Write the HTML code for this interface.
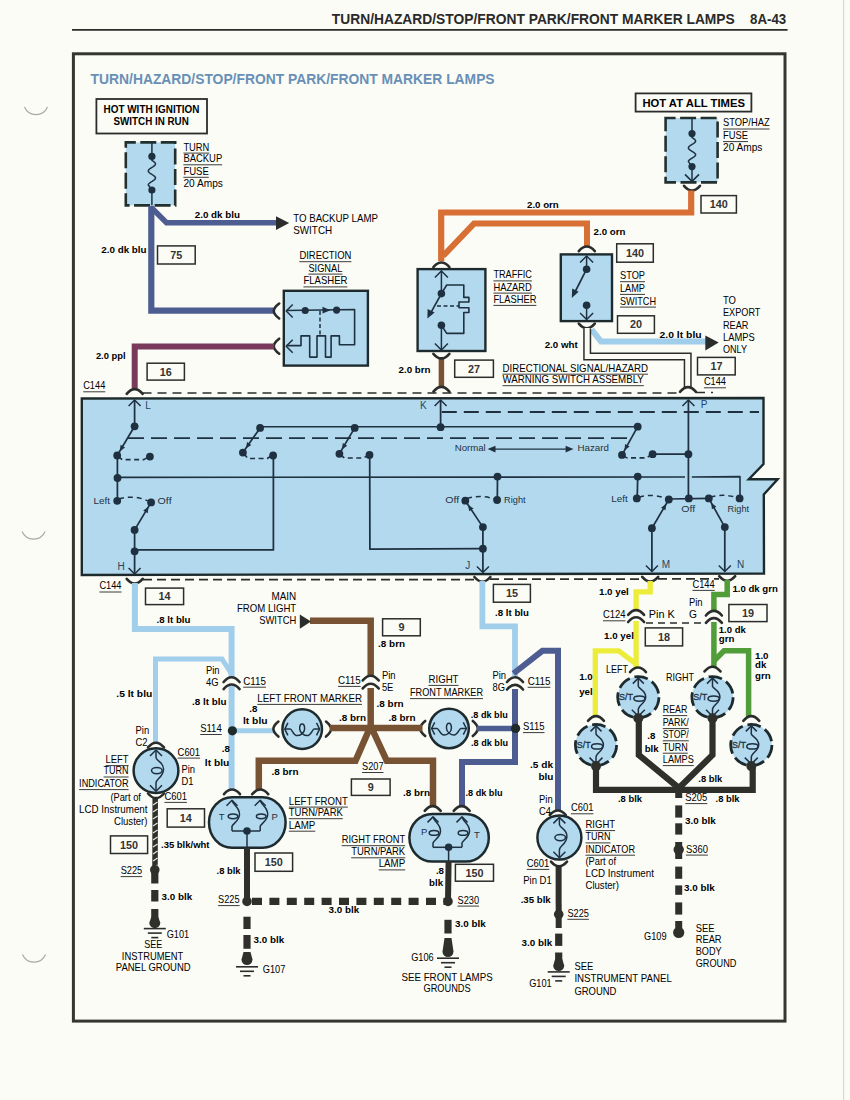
<!DOCTYPE html><html><head><meta charset="utf-8"><title>Turn/Hazard/Stop/Front Park/Front Marker Lamps 8A-43</title>
<style>html,body{margin:0;padding:0;background:#fcfcf7;}svg{display:block;font-family:"Liberation Sans",sans-serif;}</style></head><body>
<svg width="850" height="1100" viewBox="0 0 850 1100">
<rect x="0" y="0" width="850" height="1100" fill="#fcfcf7"/>
<line x1="843.6" y1="0" x2="843.6" y2="1100" stroke="#d6d6d2" stroke-width="1.1" />
<path d="M24.5,107 A12.5,12.5 0 0 0 47.5,107" fill="none" stroke="#a9a9a6" stroke-width="1.2"/>
<path d="M22.1,531.5 A12.5,12.5 0 0 0 45.1,531.5" fill="none" stroke="#a9a9a6" stroke-width="1.2"/>
<path d="M22.5,954.5 A12.5,12.5 0 0 0 45.5,954.5" fill="none" stroke="#a9a9a6" stroke-width="1.2"/>
<text x="331.8" y="23.5" font-size="15.2" font-weight="bold" fill="#2a2a2a" textLength="403" lengthAdjust="spacingAndGlyphs">TURN/HAZARD/STOP/FRONT PARK/FRONT MARKER LAMPS</text>
<text x="750" y="23.5" font-size="15.2" font-weight="bold" fill="#2a2a2a" textLength="36.2" lengthAdjust="spacingAndGlyphs">8A-43</text>
<line x1="72" y1="29.9" x2="787.6" y2="29.9" stroke="#2b2b2b" stroke-width="1.7" />
<rect x="73.4" y="53.8" width="711.6" height="967.3" fill="none" stroke="#34372f" stroke-width="3"/>
<text x="90.6" y="83.8" font-size="14.5" font-weight="bold" fill="#6890b6" textLength="404" lengthAdjust="spacingAndGlyphs">TURN/HAZARD/STOP/FRONT PARK/FRONT MARKER LAMPS</text>
<rect x="96.4" y="99" width="110.6" height="34.5" fill="none" stroke="#2a2d2b" stroke-width="1.8"/>
<text x="103.6" y="112.8" font-size="10.2" font-weight="bold" textLength="95.8" lengthAdjust="spacingAndGlyphs">HOT WITH IGNITION</text>
<text x="113.5" y="125.3" font-size="10.2" font-weight="bold" textLength="75.3" lengthAdjust="spacingAndGlyphs">SWITCH IN RUN</text>
<rect x="125.8" y="142.4" width="49.4" height="63" fill="#b3d9ef"/>
<rect x="125.8" y="142.4" width="49.4" height="63" fill="none" stroke="#22302f" stroke-width="2.6" stroke-dasharray="16,4.5" stroke-dashoffset="6"/>
<line x1="151.9" y1="142.4" x2="151.9" y2="156.4" stroke="#1f3140" stroke-width="1.5" />
<circle cx="151.9" cy="156.4" r="3.6" fill="#1f3140"/>
<polyline points="151.9,156.4 151.9,160.4 152.9,161 153.8,161.6 154.5,162.2 155.1,162.9 155.4,163.5 155.5,164.1 155.3,164.7 154.8,165.3 154.1,165.9 153.3,166.6 152.3,167.2 151.3,167.8 150.4,168.4 149.6,169 148.9,169.6 148.5,170.2 148.3,170.9 148.4,171.5 148.8,172.1 149.4,172.7 150.1,173.3 151.1,173.9 152,174.5 153,175.2 153.9,175.8 154.6,176.4 155.2,177 155.5,177.6 155.5,178.2 155.2,178.8 154.7,179.5 154,180.1 153.1,180.7 152.2,181.3 151.2,181.9 150.3,182.5 149.5,183.2 148.8,183.8 148.4,184.4 148.3,185 151.9,190" fill="none" stroke="#1f3140" stroke-width="1.5" stroke-linejoin="round"/>
<circle cx="151.9" cy="190" r="3.6" fill="#1f3140"/>
<line x1="151.9" y1="190" x2="151.9" y2="205.4" stroke="#1f3140" stroke-width="1.5" />
<text x="183.4" y="150.5" font-size="10.3" textLength="26" lengthAdjust="spacingAndGlyphs">TURN</text>
<line x1="183.4" y1="153.1" x2="209.4" y2="153.1" stroke="#3a3a3a" stroke-width="1.0" />
<text x="183.4" y="162.2" font-size="10.3" textLength="38.8" lengthAdjust="spacingAndGlyphs">BACKUP</text>
<line x1="183.4" y1="164.8" x2="222.2" y2="164.8" stroke="#3a3a3a" stroke-width="1.0" />
<text x="183.4" y="174.7" font-size="10.3" textLength="25.4" lengthAdjust="spacingAndGlyphs">FUSE</text>
<line x1="183.4" y1="177.3" x2="208.8" y2="177.3" stroke="#3a3a3a" stroke-width="1.0" />
<text x="183.4" y="187" font-size="10.3" textLength="39.5" lengthAdjust="spacingAndGlyphs">20  Amps</text>
<polyline points="151.3,206 151.3,310.7 274,310.7" fill="none" stroke="#4d5c91" stroke-width="6.2" stroke-linejoin="miter" stroke-linecap="butt" />
<polyline points="151.3,207.5 166.5,222.7 277,222.7" fill="none" stroke="#4d5c91" stroke-width="5.5" stroke-linejoin="miter" stroke-linecap="butt" />
<polygon points="276,216.2 289.2,223 276,230" fill="#2a2d2b"/>
<text x="194.7" y="217.6" font-size="9.7" font-weight="bold" textLength="45.3" lengthAdjust="spacingAndGlyphs">2.0 dk blu</text>
<text x="101.3" y="252.5" font-size="9.7" font-weight="bold" textLength="45.3" lengthAdjust="spacingAndGlyphs">2.0 dk blu</text>
<rect x="157.5" y="245.9" width="37.7" height="18.1" fill="none" stroke="#2a2d2b" stroke-width="1.5"/>
<text x="176.3" y="258.8" font-size="10.8" font-weight="bold" text-anchor="middle" fill="#333">75</text>
<text x="293.2" y="222" font-size="10.2" textLength="84.8" lengthAdjust="spacingAndGlyphs">TO BACKUP LAMP</text>
<text x="293.2" y="233.9" font-size="10.2" textLength="39" lengthAdjust="spacingAndGlyphs">SWITCH</text>
<text x="325.4" y="259.1" font-size="10.2" text-anchor="middle" textLength="52" lengthAdjust="spacingAndGlyphs">DIRECTION</text>
<line x1="299.4" y1="261.7" x2="351.4" y2="261.7" stroke="#3a3a3a" stroke-width="1.0" />
<text x="325.4" y="271.5" font-size="10.2" text-anchor="middle" textLength="34" lengthAdjust="spacingAndGlyphs">SIGNAL</text>
<line x1="308.4" y1="274.1" x2="342.4" y2="274.1" stroke="#3a3a3a" stroke-width="1.0" />
<text x="325.4" y="284.3" font-size="10.2" text-anchor="middle" textLength="44" lengthAdjust="spacingAndGlyphs">FLASHER</text>
<line x1="303.4" y1="286.9" x2="347.4" y2="286.9" stroke="#3a3a3a" stroke-width="1.0" />
<rect x="283.8" y="290.8" width="84.1" height="74.8" fill="#b3d9ef" stroke="#1e2b2e" stroke-width="2.4"/>
<path d="M279.2,303.5 Q273.8,307.6 273.8,311 Q273.8,314.4 279.2,318.5" fill="none" stroke="#2a2d2b" stroke-width="2.6" stroke-linecap="round" stroke-linejoin="round"/>
<path d="M279.2,338.7 Q273.8,342.8 273.8,346.2 Q273.8,349.6 279.2,353.7" fill="none" stroke="#2a2d2b" stroke-width="2.6" stroke-linecap="round" stroke-linejoin="round"/>
<polyline points="292.7,304.5 286.2,311 292.7,317.5" fill="none" stroke="#1f3140" stroke-width="1.5" stroke-linejoin="round" />
<polyline points="292.7,339.7 286.2,346.2 292.7,352.7" fill="none" stroke="#1f3140" stroke-width="1.5" stroke-linejoin="round" />
<polyline points="286.2,310.5 354.6,309.5 354.6,344.7 339.4,344.7 339.4,335.9 331.1,335.9 331.1,357.1 325.5,357.1 325.5,335.9 317,335.9 317,357.1 309.7,357.1 309.7,335.9 301,335.9 301,345.6 286.2,345.6" fill="none" stroke="#1f3140" stroke-width="1.6" stroke-linejoin="round" />
<circle cx="305.2" cy="310.5" r="3.6" fill="#1f3140"/>
<circle cx="336.6" cy="310.1" r="3.6" fill="#1f3140"/>
<polygon points="330.5,310.2 322.5,306.8 322.5,313.6" fill="#1f3140"/>
<line x1="320" y1="311" x2="320" y2="336" stroke="#1f3140" stroke-width="1.5" stroke-dasharray="4,2.5"/>
<polyline points="274,346.4 134.7,346.4 134.7,388" fill="none" stroke="#7a3a5c" stroke-width="6" stroke-linejoin="miter" stroke-linecap="butt" />
<text x="95.9" y="358.6" font-size="9.7" font-weight="bold" textLength="29.7" lengthAdjust="spacingAndGlyphs">2.0 ppl</text>
<rect x="147.1" y="363.2" width="37.3" height="16.9" fill="none" stroke="#2a2d2b" stroke-width="1.5"/>
<text x="165.8" y="375.5" font-size="10.8" font-weight="bold" text-anchor="middle" fill="#333">16</text>
<text x="83.2" y="389.2" font-size="10.2" textLength="22.1" lengthAdjust="spacingAndGlyphs">C144</text>
<line x1="83.2" y1="391.8" x2="105.3" y2="391.8" stroke="#3a3a3a" stroke-width="1.0" />
<rect x="635.6" y="93.4" width="115.8" height="18.2" fill="none" stroke="#2a2d2b" stroke-width="1.8"/>
<text x="642.4" y="106.6" font-size="10.4" font-weight="bold" textLength="102.6" lengthAdjust="spacingAndGlyphs">HOT AT ALL TIMES</text>
<rect x="665.6" y="118" width="52" height="64.4" fill="#b3d9ef"/>
<rect x="665.6" y="118" width="52" height="64.4" fill="none" stroke="#22302f" stroke-width="2.6" stroke-dasharray="16,4.5" stroke-dashoffset="6"/>
<line x1="692" y1="118" x2="692" y2="133.6" stroke="#1f3140" stroke-width="1.5" />
<circle cx="692" cy="133.6" r="3.6" fill="#1f3140"/>
<polyline points="692,133.6 692,137.6 693,138.2 693.9,138.8 694.6,139.4 695.2,140 695.5,140.6 695.6,141.2 695.4,141.8 694.9,142.4 694.2,143 693.4,143.6 692.4,144.2 691.4,144.8 690.5,145.4 689.7,146 689,146.6 688.6,147.2 688.4,147.8 688.5,148.4 688.9,149 689.5,149.6 690.2,150.2 691.2,150.8 692.1,151.4 693.1,152 694,152.6 694.7,153.2 695.3,153.8 695.6,154.4 695.6,155 695.3,155.6 694.8,156.2 694.1,156.8 693.2,157.4 692.3,158 691.3,158.6 690.4,159.2 689.6,159.8 688.9,160.4 688.5,161 688.4,161.6 692,166.6" fill="none" stroke="#1f3140" stroke-width="1.5" stroke-linejoin="round"/>
<circle cx="692" cy="166.6" r="3.6" fill="#1f3140"/>
<line x1="692" y1="166.6" x2="692" y2="182.4" stroke="#1f3140" stroke-width="1.5" />
<polyline points="685,174.4 692,181.4 699,174.4" fill="none" stroke="#1f3140" stroke-width="1.6" stroke-linejoin="round" />
<text x="723" y="126.4" font-size="10.3" textLength="46.6" lengthAdjust="spacingAndGlyphs">STOP/HAZ</text>
<line x1="723" y1="129" x2="769.6" y2="129" stroke="#3a3a3a" stroke-width="1.0" />
<text x="723" y="139" font-size="10.3" textLength="25" lengthAdjust="spacingAndGlyphs">FUSE</text>
<line x1="723" y1="141.6" x2="748" y2="141.6" stroke="#3a3a3a" stroke-width="1.0" />
<text x="723" y="151" font-size="10.3" textLength="39.4" lengthAdjust="spacingAndGlyphs">20  Amps</text>
<path d="M684,185.8 Q692,195.1 700,185.8" fill="none" stroke="#2a2d2b" stroke-width="2.6" stroke-linecap="round"/>
<rect x="701" y="195.6" width="35.4" height="17.4" fill="none" stroke="#2a2d2b" stroke-width="1.5"/>
<text x="718.7" y="208.2" font-size="10.8" font-weight="bold" text-anchor="middle" fill="#333">140</text>
<polyline points="691.2,190.5 691.2,212.5 441.2,212.5 441.2,261" fill="none" stroke="#d86f35" stroke-width="6.2" stroke-linejoin="miter" stroke-linecap="butt" />
<polyline points="443,256 474,223.6 587,223.6 587,246" fill="none" stroke="#d86f35" stroke-width="6" stroke-linejoin="miter" stroke-linecap="butt" />
<text x="527" y="207.6" font-size="9.7" font-weight="bold" textLength="31.8" lengthAdjust="spacingAndGlyphs">2.0 orn</text>
<text x="593.6" y="234.7" font-size="9.7" font-weight="bold" textLength="31.8" lengthAdjust="spacingAndGlyphs">2.0 orn</text>
<path d="M433.4,267.2 Q441.4,257.9 449.4,267.2" fill="none" stroke="#2a2d2b" stroke-width="2.6" stroke-linecap="round"/>
<rect x="417.6" y="269.1" width="67.8" height="81.9" fill="#b3d9ef" stroke="#1e2b2e" stroke-width="2.4"/>
<line x1="441.4" y1="270.5" x2="441.4" y2="293.6" stroke="#1f3140" stroke-width="1.5" />
<polyline points="434.9,277.5 441.4,271 447.9,277.5" fill="none" stroke="#1f3140" stroke-width="1.5" stroke-linejoin="round" />
<circle cx="441.4" cy="293.6" r="3.8" fill="#1f3140"/>
<line x1="441.4" y1="293.6" x2="429.5" y2="315.2" stroke="#1f3140" stroke-width="1.7" />
<polygon points="427.4,318.6 427.6,309 434.6,312.6" fill="#1f3140"/>
<line x1="437" y1="306" x2="459" y2="306" stroke="#1f3140" stroke-width="1.5" stroke-dasharray="4,2.5"/>
<polyline points="441.4,293.6 446.7,285 463.8,285 463.8,297.4 468.9,297.4 468.9,302 459,302 459,307.8 468.9,307.8 468.9,312.5 463.8,312.5 463.8,333.4 446.7,333.4 441.4,325.3" fill="none" stroke="#1f3140" stroke-width="1.6" stroke-linejoin="round" />
<circle cx="441.4" cy="325.3" r="3.8" fill="#1f3140"/>
<line x1="441.4" y1="325.3" x2="441.4" y2="350" stroke="#1f3140" stroke-width="1.5" />
<polyline points="434.9,343.5 441.4,350 447.9,343.5" fill="none" stroke="#1f3140" stroke-width="1.5" stroke-linejoin="round" />
<text x="493.4" y="278.3" font-size="10.2" textLength="38.5" lengthAdjust="spacingAndGlyphs">TRAFFIC</text>
<line x1="493.4" y1="280.9" x2="531.9" y2="280.9" stroke="#3a3a3a" stroke-width="1.0" />
<text x="493.4" y="290.5" font-size="10.2" textLength="38.5" lengthAdjust="spacingAndGlyphs">HAZARD</text>
<line x1="493.4" y1="293.1" x2="531.9" y2="293.1" stroke="#3a3a3a" stroke-width="1.0" />
<text x="493.4" y="302.8" font-size="10.2" textLength="43" lengthAdjust="spacingAndGlyphs">FLASHER</text>
<line x1="493.4" y1="305.4" x2="536.4" y2="305.4" stroke="#3a3a3a" stroke-width="1.0" />
<polyline points="441.4,357 441.4,387" fill="none" stroke="#775333" stroke-width="5.5" stroke-linejoin="miter" stroke-linecap="butt" />
<path d="M433.4,353.8 Q441.4,363.1 449.4,353.8" fill="none" stroke="#2a2d2b" stroke-width="2.6" stroke-linecap="round"/>
<path d="M433.4,391.6 Q441.4,382.2 449.4,391.6" fill="none" stroke="#2a2d2b" stroke-width="2.6" stroke-linecap="round"/>
<text x="398.5" y="373.1" font-size="9.7" font-weight="bold" textLength="32" lengthAdjust="spacingAndGlyphs">2.0 brn</text>
<rect x="454.7" y="360.1" width="38.7" height="17.2" fill="none" stroke="#2a2d2b" stroke-width="1.5"/>
<text x="474" y="372.6" font-size="10.8" font-weight="bold" text-anchor="middle" fill="#333">27</text>
<text x="502.5" y="371.6" font-size="10.2" textLength="145.5" lengthAdjust="spacingAndGlyphs">DIRECTIONAL SIGNAL/HAZARD</text>
<line x1="502.5" y1="374.2" x2="648" y2="374.2" stroke="#3a3a3a" stroke-width="1.0" />
<text x="502.5" y="383.1" font-size="10.2" textLength="141.3" lengthAdjust="spacingAndGlyphs">WARNING SWITCH ASSEMBLY</text>
<line x1="502.5" y1="385.7" x2="643.8" y2="385.7" stroke="#3a3a3a" stroke-width="1.0" />
<path d="M578.8,251.2 Q586.8,241.9 594.8,251.2" fill="none" stroke="#2a2d2b" stroke-width="2.6" stroke-linecap="round"/>
<rect x="560.8" y="254.4" width="51.2" height="66.7" fill="#b3d9ef" stroke="#1e2b2e" stroke-width="2.4"/>
<line x1="586.6" y1="256" x2="586.6" y2="269.2" stroke="#1f3140" stroke-width="1.5" />
<polyline points="580.1,262.5 586.6,256 593.1,262.5" fill="none" stroke="#1f3140" stroke-width="1.5" stroke-linejoin="round" />
<circle cx="586.6" cy="269.2" r="3.8" fill="#1f3140"/>
<line x1="586.6" y1="269.2" x2="574" y2="294" stroke="#1f3140" stroke-width="1.7" />
<polygon points="571.8,298 572.2,288.5 578.6,291.7" fill="#1f3140"/>
<circle cx="586.6" cy="305.2" r="3.8" fill="#1f3140"/>
<line x1="586.6" y1="305.2" x2="586.6" y2="319.5" stroke="#1f3140" stroke-width="1.5" />
<polyline points="580.1,313 586.6,319.5 593.1,313" fill="none" stroke="#1f3140" stroke-width="1.5" stroke-linejoin="round" />
<path d="M578.8,323.6 Q586.8,333 594.8,323.6" fill="none" stroke="#2a2d2b" stroke-width="2.6" stroke-linecap="round"/>
<rect x="616.7" y="243.8" width="36.6" height="18.4" fill="none" stroke="#2a2d2b" stroke-width="1.5"/>
<text x="635" y="256.9" font-size="10.8" font-weight="bold" text-anchor="middle" fill="#333">140</text>
<text x="620" y="279.1" font-size="10.2" textLength="25" lengthAdjust="spacingAndGlyphs">STOP</text>
<line x1="620" y1="281.7" x2="645" y2="281.7" stroke="#3a3a3a" stroke-width="1.0" />
<text x="620" y="291.8" font-size="10.2" textLength="25" lengthAdjust="spacingAndGlyphs">LAMP</text>
<line x1="620" y1="294.4" x2="645" y2="294.4" stroke="#3a3a3a" stroke-width="1.0" />
<text x="620" y="304.5" font-size="10.2" textLength="36" lengthAdjust="spacingAndGlyphs">SWITCH</text>
<line x1="620" y1="307.1" x2="656" y2="307.1" stroke="#3a3a3a" stroke-width="1.0" />
<rect x="617.5" y="315.8" width="36.9" height="17.5" fill="none" stroke="#2a2d2b" stroke-width="1.5"/>
<text x="636" y="328.4" font-size="10.8" font-weight="bold" text-anchor="middle" fill="#333">20</text>
<polyline points="591.5,329.5 601,341.4 707,341.4" fill="none" stroke="#a0ceeb" stroke-width="6" stroke-linejoin="miter" stroke-linecap="butt" />
<polygon points="705.3,335.4 718.7,342.6 705.3,350.4" fill="#2a2d2b"/>
<text x="659.6" y="337.6" font-size="9.7" font-weight="bold" textLength="42" lengthAdjust="spacingAndGlyphs">2.0 lt blu</text>
<text x="723" y="304" font-size="10.2" textLength="13" lengthAdjust="spacingAndGlyphs">TO</text>
<text x="723" y="316.4" font-size="10.2" textLength="37.4" lengthAdjust="spacingAndGlyphs">EXPORT</text>
<text x="723" y="328.7" font-size="10.2" textLength="25.4" lengthAdjust="spacingAndGlyphs">REAR</text>
<text x="723" y="341.4" font-size="10.2" textLength="31.7" lengthAdjust="spacingAndGlyphs">LAMPS</text>
<text x="723" y="353.4" font-size="10.2" textLength="24" lengthAdjust="spacingAndGlyphs">ONLY</text>
<polyline points="587.2,329 587.2,356.4 687.7,356.4 687.7,388" fill="none" stroke="#2b2d2b" stroke-width="8" stroke-linejoin="miter" stroke-linecap="butt" />
<polyline points="587.2,328 587.2,356.4 687.7,356.4 687.7,389" fill="none" stroke="#fbfaf4" stroke-width="5" stroke-linejoin="miter" stroke-linecap="butt" />
<text x="544.7" y="347.5" font-size="9.7" font-weight="bold" textLength="33" lengthAdjust="spacingAndGlyphs">2.0 wht</text>
<rect x="697.5" y="357.4" width="37.7" height="17.5" fill="none" stroke="#2a2d2b" stroke-width="1.5"/>
<text x="716.4" y="370" font-size="10.8" font-weight="bold" text-anchor="middle" fill="#333">17</text>
<text x="703.9" y="385.2" font-size="10.2" textLength="22.1" lengthAdjust="spacingAndGlyphs">C144</text>
<line x1="703.9" y1="387.8" x2="726" y2="387.8" stroke="#3a3a3a" stroke-width="1.0" />
<path d="M680,391.8 Q688,382.4 696,391.8" fill="none" stroke="#2a2d2b" stroke-width="2.6" stroke-linecap="round"/>
<line x1="142.5" y1="393" x2="682" y2="393" stroke="#2a2d2b" stroke-width="1.7" stroke-dasharray="9,6"/>
<line x1="696" y1="392.5" x2="713" y2="392.5" stroke="#2a2d2b" stroke-width="1.7" stroke-dasharray="9,6"/>
<path d="M126.7,393.8 Q134.7,384.4 142.7,393.8" fill="none" stroke="#2a2d2b" stroke-width="2.6" stroke-linecap="round"/>
<polygon points="81.8,398.5 763.5,398 763.5,464 748.8,479.2 777.7,479.2 763.8,494.5 764,573.5 81.8,575" fill="#b3d9ef" stroke="#1d2a2c" stroke-width="2.4" stroke-linejoin="miter"/>
<line x1="441.8" y1="412" x2="759" y2="412" stroke="#1f3140" stroke-width="1.8" stroke-dasharray="15,7"/>
<line x1="128" y1="438.2" x2="631" y2="438.2" stroke="#1f3140" stroke-width="1.8" stroke-dasharray="16,7"/>
<line x1="260.1" y1="426.8" x2="637.7" y2="426.8" stroke="#1f3140" stroke-width="1.6" />
<polyline points="117.6,477.4 685,477" fill="none" stroke="#1f3140" stroke-width="1.6" stroke-linejoin="round" />
<polyline points="691.8,477 740,476.6 740,498.4" fill="none" stroke="#1f3140" stroke-width="1.6" stroke-linejoin="round" />
<line x1="134.6" y1="400" x2="134.6" y2="426.3" stroke="#1f3140" stroke-width="1.75" />
<polyline points="128.6,406 134.6,400 140.6,406" fill="none" stroke="#1f3140" stroke-width="1.5" stroke-linejoin="round" />
<text x="145.3" y="409.4" font-size="10" fill="#24465e">L</text>
<circle cx="134.6" cy="426.3" r="3.9" fill="#1f3140"/>
<line x1="134.6" y1="426.3" x2="117.2" y2="455.5" stroke="#1f3140" stroke-width="1.7" />
<polygon points="119.8,451.2 120.6,444.7 125.1,447.4" fill="#1f3140"/>
<circle cx="117.2" cy="455.5" r="3.9" fill="#1f3140"/>
<polyline points="118.2,456.5 122.2,459.6 143.9,459.6 148.9,456.6" fill="none" stroke="#1f3140" stroke-width="1.6" stroke-linejoin="round" stroke-dasharray="5,3.5"/>
<circle cx="149.9" cy="456.6" r="3.9" fill="#1f3140"/>
<line x1="117.4" y1="455.5" x2="117.4" y2="500.8" stroke="#1f3140" stroke-width="1.75" />
<circle cx="117.5" cy="478" r="3.9" fill="#1f3140"/>
<circle cx="117.2" cy="500.8" r="3.9" fill="#1f3140"/>
<text x="93.6" y="503.5" font-size="9.5" fill="#1f3140" textLength="16.5" lengthAdjust="spacingAndGlyphs">Left</text>
<path d="M119,499 Q135,494 151,502.4" fill="none" stroke="#1f3140" stroke-width="1.5" stroke-dasharray="5,4"/>
<circle cx="151.1" cy="502.4" r="3.9" fill="#1f3140"/>
<text x="157.6" y="503.5" font-size="9.5" fill="#1f3140" textLength="14" lengthAdjust="spacingAndGlyphs">Off</text>
<line x1="151.1" y1="502.4" x2="134.6" y2="529.9" stroke="#1f3140" stroke-width="1.7" />
<polygon points="148.5,506.7 143.2,510.5 147.7,513.2" fill="#1f3140"/>
<circle cx="134.6" cy="529.9" r="3.9" fill="#1f3140"/>
<line x1="134.6" y1="529.9" x2="134.6" y2="574" stroke="#1f3140" stroke-width="1.75" />
<circle cx="134.6" cy="551.3" r="3.9" fill="#1f3140"/>
<polyline points="128.6,568 134.6,574 140.6,568" fill="none" stroke="#1f3140" stroke-width="1.5" stroke-linejoin="round" />
<text x="117.6" y="569.9" font-size="10" fill="#24465e">H</text>
<polyline points="134.6,549.9 273.4,549.9 273.4,455.5" fill="none" stroke="#1f3140" stroke-width="1.75" stroke-linejoin="round" />
<circle cx="260.1" cy="427.9" r="3.9" fill="#1f3140"/>
<line x1="260.1" y1="427.9" x2="242.9" y2="452.6" stroke="#1f3140" stroke-width="1.7" />
<polygon points="245.8,448.5 247.1,442.1 251.3,445.1" fill="#1f3140"/>
<circle cx="242.9" cy="452.6" r="3.9" fill="#1f3140"/>
<polyline points="243.9,453.6 247.9,458.5 267.1,458.5 272.1,455.5" fill="none" stroke="#1f3140" stroke-width="1.6" stroke-linejoin="round" stroke-dasharray="5,3.5"/>
<circle cx="273.1" cy="455.5" r="3.9" fill="#1f3140"/>
<circle cx="354.7" cy="427.9" r="3.9" fill="#1f3140"/>
<line x1="354.7" y1="427.9" x2="339.4" y2="453.8" stroke="#1f3140" stroke-width="1.7" />
<polygon points="341.9,449.5 342.8,443 347.2,445.7" fill="#1f3140"/>
<circle cx="339.4" cy="453.8" r="3.9" fill="#1f3140"/>
<polyline points="340.4,454.8 344.4,458 363.5,458 368.5,455" fill="none" stroke="#1f3140" stroke-width="1.6" stroke-linejoin="round" stroke-dasharray="5,3.5"/>
<circle cx="369.5" cy="455" r="3.9" fill="#1f3140"/>
<polyline points="369.7,455 369.9,549.2 482.9,548.7" fill="none" stroke="#1f3140" stroke-width="1.75" stroke-linejoin="round" />
<line x1="440.6" y1="400" x2="440.6" y2="427.2" stroke="#1f3140" stroke-width="1.75" />
<polyline points="434.6,406 440.6,400 446.6,406" fill="none" stroke="#1f3140" stroke-width="1.5" stroke-linejoin="round" />
<text x="420" y="409" font-size="10" fill="#24465e">K</text>
<circle cx="440.6" cy="427.2" r="3.9" fill="#1f3140"/>
<text x="454.7" y="451" font-size="9.5" fill="#1f3140" textLength="31" lengthAdjust="spacingAndGlyphs">Normal</text>
<text x="577.5" y="451" font-size="9.5" fill="#1f3140" textLength="31.3" lengthAdjust="spacingAndGlyphs">Hazard</text>
<line x1="492" y1="449.1" x2="569" y2="449.1" stroke="#1f3140" stroke-width="1.4" />
<polygon points="487.6,449.1 495.5,445.8 495.5,452.4" fill="#1f3140"/>
<polygon points="573.5,449.1 565.6,445.8 565.6,452.4" fill="#1f3140"/>
<circle cx="497.5" cy="476.6" r="3.9" fill="#1f3140"/>
<line x1="497.5" y1="476.6" x2="497.3" y2="500" stroke="#1f3140" stroke-width="1.75" />
<circle cx="497.1" cy="500" r="3.9" fill="#1f3140"/>
<path d="M467,498.5 Q482,494 497,500" fill="none" stroke="#1f3140" stroke-width="1.5" stroke-dasharray="5,4"/>
<circle cx="465.3" cy="500.7" r="3.9" fill="#1f3140"/>
<text x="445.3" y="503" font-size="9.5" fill="#1f3140" textLength="14" lengthAdjust="spacingAndGlyphs">Off</text>
<text x="504.1" y="503.2" font-size="9.5" fill="#1f3140" textLength="21.5" lengthAdjust="spacingAndGlyphs">Right</text>
<line x1="465.3" y1="500.7" x2="482.9" y2="527.1" stroke="#1f3140" stroke-width="1.7" />
<polygon points="468.1,504.9 469.2,511.3 473.6,508.4" fill="#1f3140"/>
<circle cx="482.9" cy="527.1" r="3.9" fill="#1f3140"/>
<line x1="482.9" y1="527.1" x2="482.9" y2="572.5" stroke="#1f3140" stroke-width="1.75" />
<circle cx="482.9" cy="548.7" r="3.9" fill="#1f3140"/>
<polyline points="476.9,566.5 482.9,572.5 488.9,566.5" fill="none" stroke="#1f3140" stroke-width="1.5" stroke-linejoin="round" />
<text x="465.3" y="569" font-size="10" fill="#24465e">J</text>
<circle cx="637.7" cy="426.7" r="3.9" fill="#1f3140"/>
<line x1="637.7" y1="426.7" x2="622" y2="454.9" stroke="#1f3140" stroke-width="1.7" />
<polygon points="624.4,450.5 625.1,444 629.6,446.6" fill="#1f3140"/>
<circle cx="622" cy="454.9" r="3.9" fill="#1f3140"/>
<polyline points="623,455.9 627,457.9 646.6,457.9 651.6,454.2" fill="none" stroke="#1f3140" stroke-width="1.6" stroke-linejoin="round" stroke-dasharray="5,3.5"/>
<circle cx="652.6" cy="454.2" r="3.9" fill="#1f3140"/>
<line x1="652.6" y1="454.2" x2="688.4" y2="454.2" stroke="#1f3140" stroke-width="1.75" />
<line x1="688.4" y1="400" x2="688.4" y2="498.5" stroke="#1f3140" stroke-width="1.75" />
<polyline points="682.4,406 688.4,400 694.4,406" fill="none" stroke="#1f3140" stroke-width="1.5" stroke-linejoin="round" />
<text x="700.7" y="408.4" font-size="10" fill="#24465e">P</text>
<circle cx="688.4" cy="454.2" r="3.9" fill="#1f3140"/>
<circle cx="637.7" cy="476.6" r="3.9" fill="#1f3140"/>
<line x1="637.7" y1="476.6" x2="637.2" y2="498.4" stroke="#1f3140" stroke-width="1.75" />
<circle cx="636.8" cy="498.4" r="3.9" fill="#1f3140"/>
<text x="611.3" y="501.8" font-size="9.5" fill="#1f3140" textLength="16.5" lengthAdjust="spacingAndGlyphs">Left</text>
<path d="M639,497 Q654,493 668.8,499.5" fill="none" stroke="#1f3140" stroke-width="1.5" stroke-dasharray="5,4"/>
<circle cx="668.8" cy="499.5" r="3.9" fill="#1f3140"/>
<line x1="668.8" y1="499" x2="708.8" y2="498.4" stroke="#1f3140" stroke-width="1.75" />
<circle cx="688.8" cy="498.4" r="3.9" fill="#1f3140"/>
<circle cx="708.8" cy="498.4" r="3.9" fill="#1f3140"/>
<path d="M710.5,497 Q725,493 739.5,498.4" fill="none" stroke="#1f3140" stroke-width="1.5" stroke-dasharray="5,4"/>
<circle cx="739.6" cy="498.4" r="3.9" fill="#1f3140"/>
<text x="681.3" y="512.2" font-size="9.5" fill="#1f3140" textLength="14" lengthAdjust="spacingAndGlyphs">Off</text>
<text x="727.6" y="511.8" font-size="9.5" fill="#1f3140" textLength="21.5" lengthAdjust="spacingAndGlyphs">Right</text>
<line x1="668.8" y1="499.5" x2="651.9" y2="528.2" stroke="#1f3140" stroke-width="1.7" />
<polygon points="666.3,503.8 661,507.7 665.5,510.3" fill="#1f3140"/>
<circle cx="651.9" cy="528.2" r="3.9" fill="#1f3140"/>
<line x1="651.9" y1="528.2" x2="651.9" y2="571.5" stroke="#1f3140" stroke-width="1.75" />
<polyline points="645.9,565.5 651.9,571.5 657.9,565.5" fill="none" stroke="#1f3140" stroke-width="1.5" stroke-linejoin="round" />
<text x="661.8" y="567.5" font-size="10" fill="#24465e">M</text>
<line x1="708.8" y1="498.4" x2="724.8" y2="527.1" stroke="#1f3140" stroke-width="1.7" />
<polygon points="711.2,502.8 711.9,509.3 716.4,506.7" fill="#1f3140"/>
<circle cx="724.8" cy="527.1" r="3.9" fill="#1f3140"/>
<line x1="724.8" y1="527.1" x2="724.8" y2="571.5" stroke="#1f3140" stroke-width="1.75" />
<polyline points="718.8,565.5 724.8,571.5 730.8,565.5" fill="none" stroke="#1f3140" stroke-width="1.5" stroke-linejoin="round" />
<text x="737" y="567.5" font-size="10" fill="#24465e">N</text>
<line x1="143" y1="579.6" x2="474" y2="579.6" stroke="#2a2d2b" stroke-width="1.7" stroke-dasharray="9,5"/>
<line x1="490" y1="579.2" x2="642" y2="579.2" stroke="#2a2d2b" stroke-width="1.7" stroke-dasharray="9,5"/>
<line x1="658" y1="578.9" x2="719" y2="578.9" stroke="#2a2d2b" stroke-width="1.7" stroke-dasharray="9,5"/>
<path d="M126.7,578.8 Q134.7,588.1 142.7,578.8" fill="none" stroke="#2a2d2b" stroke-width="2.6" stroke-linecap="round"/>
<path d="M474.4,577 Q482.4,586.4 490.4,577" fill="none" stroke="#2a2d2b" stroke-width="2.6" stroke-linecap="round"/>
<path d="M642.2,576.8 Q650.2,586.1 658.2,576.8" fill="none" stroke="#2a2d2b" stroke-width="2.6" stroke-linecap="round"/>
<path d="M719.2,576.2 Q727.2,585.6 735.2,576.2" fill="none" stroke="#2a2d2b" stroke-width="2.6" stroke-linecap="round"/>
<text x="99.4" y="589.4" font-size="10.2" textLength="22.1" lengthAdjust="spacingAndGlyphs">C144</text>
<line x1="99.4" y1="592" x2="121.5" y2="592" stroke="#3a3a3a" stroke-width="1.0" />
<text x="692.4" y="587.8" font-size="10.2" textLength="22.3" lengthAdjust="spacingAndGlyphs">C144</text>
<line x1="692.4" y1="590.4" x2="714.7" y2="590.4" stroke="#3a3a3a" stroke-width="1.0" />
<polyline points="134.9,583 134.9,629 231.6,629 231.6,677" fill="none" stroke="#a0ceeb" stroke-width="6" stroke-linejoin="miter" stroke-linecap="butt" />
<polyline points="231.6,674 222,659 155.5,659 155.5,742" fill="none" stroke="#a0ceeb" stroke-width="5" stroke-linejoin="miter" stroke-linecap="butt" />
<polyline points="231.6,686 231.6,789" fill="none" stroke="#a0ceeb" stroke-width="6" stroke-linejoin="miter" stroke-linecap="butt" />
<polyline points="232,730.8 274,730.8" fill="none" stroke="#a0ceeb" stroke-width="5" stroke-linejoin="miter" stroke-linecap="butt" />
<rect x="145.5" y="588.1" width="38.1" height="16.5" fill="none" stroke="#2a2d2b" stroke-width="1.5"/>
<text x="164.6" y="600.2" font-size="10.8" font-weight="bold" text-anchor="middle" fill="#333">14</text>
<text x="156.5" y="622.6" font-size="9.7" font-weight="bold" textLength="33.9" lengthAdjust="spacingAndGlyphs">.8 lt blu</text>
<text x="206" y="674" font-size="10.2" textLength="13.6" lengthAdjust="spacingAndGlyphs">Pin</text>
<text x="206" y="686.2" font-size="10.2" textLength="12.5" lengthAdjust="spacingAndGlyphs">4G</text>
<path d="M223.6,682 Q231.6,672.6 239.6,682" fill="none" stroke="#2a2d2b" stroke-width="2.6" stroke-linecap="round"/>
<path d="M223.6,689.1 Q231.6,679.8 239.6,689.1" fill="none" stroke="#2a2d2b" stroke-width="2.6" stroke-linecap="round"/>
<text x="243.2" y="684.6" font-size="10.2" textLength="22.7" lengthAdjust="spacingAndGlyphs">C115</text>
<line x1="243.2" y1="687.2" x2="265.9" y2="687.2" stroke="#3a3a3a" stroke-width="1.0" />
<text x="116.3" y="697.4" font-size="9.7" font-weight="bold" textLength="36" lengthAdjust="spacingAndGlyphs">.5 lt blu</text>
<text x="192" y="705" font-size="9.7" font-weight="bold" textLength="34.4" lengthAdjust="spacingAndGlyphs">.8 lt blu</text>
<text x="257.3" y="701.8" font-size="10.2" textLength="104.7" lengthAdjust="spacingAndGlyphs">LEFT FRONT MARKER</text>
<line x1="257.3" y1="704.4" x2="362" y2="704.4" stroke="#3a3a3a" stroke-width="1.0" />
<text x="249.3" y="711.8" font-size="9.7" font-weight="bold">.8</text>
<text x="243" y="724" font-size="9.7" font-weight="bold" textLength="24.5" lengthAdjust="spacingAndGlyphs">lt blu</text>
<text x="200.2" y="731.9" font-size="10.2" textLength="21.5" lengthAdjust="spacingAndGlyphs">S114</text>
<line x1="200.2" y1="734.5" x2="221.7" y2="734.5" stroke="#3a3a3a" stroke-width="1.0" />
<circle cx="232.4" cy="730.8" r="4.6" fill="#1f2a2a"/>
<text x="221.8" y="752" font-size="9.7" font-weight="bold">.8</text>
<text x="204.8" y="765.8" font-size="9.7" font-weight="bold" textLength="24.5" lengthAdjust="spacingAndGlyphs">lt blu</text>
<circle cx="302.2" cy="729.1" r="19.8" fill="#b3d9ef" stroke="#1e2b2e" stroke-width="2.5"/>
<path d="M278.4,721.6 Q273.4,725.7 273.4,729.1 Q273.4,732.5 278.4,736.6" fill="none" stroke="#2a2d2b" stroke-width="2.6" stroke-linecap="round" stroke-linejoin="round"/>
<path d="M326,721.6 Q331,725.7 331,729.1 Q331,732.5 326,736.6" fill="none" stroke="#2a2d2b" stroke-width="2.6" stroke-linecap="round" stroke-linejoin="round"/>
<path d="M287.9,722.9 L284.8,729.1 287.9,735.3" fill="none" stroke="#1f3140" stroke-width="1.5" stroke-linejoin="round" />
<path d="M316.5,722.9 L319.6,729.1 316.5,735.3" fill="none" stroke="#1f3140" stroke-width="1.5" stroke-linejoin="round" />
<path d="M284.8,729.1 L290.2,729.1 C292.2,729.1 293.2,735.6 297.2,735.6 C300.2,735.6 304.4,733.1 304.6,729.1 C304.8,725.1 303.4,723.9 302.2,723.9 C300.8,723.9 299.4,725.1 299.7,729.1 C300,733.1 304.2,735.6 307.2,735.6 C311.2,735.6 312.2,729.1 314.2,729.1 L319.6,729.1" fill="none" stroke="#1f3140" stroke-width="1.5" stroke-linejoin="round" />
<circle cx="449" cy="728.5" r="19.8" fill="#b3d9ef" stroke="#1e2b2e" stroke-width="2.5"/>
<path d="M425.2,721 Q420.2,725.1 420.2,728.5 Q420.2,731.9 425.2,736" fill="none" stroke="#2a2d2b" stroke-width="2.6" stroke-linecap="round" stroke-linejoin="round"/>
<path d="M472.8,721 Q477.8,725.1 477.8,728.5 Q477.8,731.9 472.8,736" fill="none" stroke="#2a2d2b" stroke-width="2.6" stroke-linecap="round" stroke-linejoin="round"/>
<path d="M434.7,722.3 L431.6,728.5 434.7,734.7" fill="none" stroke="#1f3140" stroke-width="1.5" stroke-linejoin="round" />
<path d="M463.3,722.3 L466.4,728.5 463.3,734.7" fill="none" stroke="#1f3140" stroke-width="1.5" stroke-linejoin="round" />
<path d="M431.6,728.5 L437,728.5 C439,728.5 440,735 444,735 C447,735 451.2,732.5 451.4,728.5 C451.6,724.5 450.2,723.3 449,723.3 C447.6,723.3 446.2,724.5 446.5,728.5 C446.8,732.5 451,735 454,735 C458,735 459,728.5 461,728.5 L466.4,728.5" fill="none" stroke="#1f3140" stroke-width="1.5" stroke-linejoin="round" />
<polyline points="310,620.7 370.7,620.7 370.7,676" fill="none" stroke="#775333" stroke-width="6.5" stroke-linejoin="miter" stroke-linecap="butt" />
<polygon points="299.8,614.4 311,621.6 299.8,628.8" fill="#2a2d2b"/>
<polyline points="370.7,688 370.7,728" fill="none" stroke="#775333" stroke-width="6.5" stroke-linejoin="miter" stroke-linecap="butt" />
<polyline points="330,727.9 422.5,727.9" fill="none" stroke="#775333" stroke-width="6.5" stroke-linejoin="miter" stroke-linecap="butt" />
<polyline points="370.7,726 355.5,760.8 258.8,760.8 258.8,790" fill="none" stroke="#775333" stroke-width="6.5" stroke-linejoin="miter" stroke-linecap="butt" />
<polyline points="370.7,726 386.8,760.8 433,760.8 433,806" fill="none" stroke="#775333" stroke-width="6.5" stroke-linejoin="miter" stroke-linecap="butt" />
<path d="M362.7,680.4 Q370.7,671 378.7,680.4" fill="none" stroke="#2a2d2b" stroke-width="2.6" stroke-linecap="round"/>
<path d="M362.7,688.4 Q370.7,679 378.7,688.4" fill="none" stroke="#2a2d2b" stroke-width="2.6" stroke-linecap="round"/>
<text x="296.2" y="599.8" font-size="10.2" text-anchor="end" textLength="24.7" lengthAdjust="spacingAndGlyphs">MAIN</text>
<text x="296.2" y="612.2" font-size="10.2" text-anchor="end" textLength="59.2" lengthAdjust="spacingAndGlyphs">FROM LIGHT</text>
<text x="296.2" y="624" font-size="10.2" text-anchor="end" textLength="37" lengthAdjust="spacingAndGlyphs">SWITCH</text>
<rect x="382.6" y="618.8" width="37.7" height="17" fill="none" stroke="#2a2d2b" stroke-width="1.5"/>
<text x="401.5" y="631.2" font-size="10.8" font-weight="bold" text-anchor="middle" fill="#333">9</text>
<text x="378.1" y="647.1" font-size="9.7" font-weight="bold" textLength="27" lengthAdjust="spacingAndGlyphs">.8 brn</text>
<text x="338" y="683.8" font-size="10.2" textLength="22.7" lengthAdjust="spacingAndGlyphs">C115</text>
<line x1="338" y1="686.4" x2="360.7" y2="686.4" stroke="#3a3a3a" stroke-width="1.0" />
<text x="381.9" y="678.7" font-size="10.2" textLength="13.6" lengthAdjust="spacingAndGlyphs">Pin</text>
<text x="381.9" y="691.3" font-size="10.2" textLength="11.5" lengthAdjust="spacingAndGlyphs">5E</text>
<text x="376.6" y="707.3" font-size="9.7" font-weight="bold" textLength="27" lengthAdjust="spacingAndGlyphs">.8 brn</text>
<text x="339" y="720.5" font-size="9.7" font-weight="bold" textLength="27" lengthAdjust="spacingAndGlyphs">.8 brn</text>
<text x="388.5" y="720.5" font-size="9.7" font-weight="bold" textLength="27" lengthAdjust="spacingAndGlyphs">.8 brn</text>
<text x="362.1" y="769.9" font-size="10.2" textLength="21.4" lengthAdjust="spacingAndGlyphs">S207</text>
<line x1="362.1" y1="772.5" x2="383.5" y2="772.5" stroke="#3a3a3a" stroke-width="1.0" />
<rect x="351.4" y="779" width="38.7" height="16.4" fill="none" stroke="#2a2d2b" stroke-width="1.5"/>
<text x="370.8" y="791.1" font-size="10.8" font-weight="bold" text-anchor="middle" fill="#333">9</text>
<text x="271.5" y="774.9" font-size="9.7" font-weight="bold" textLength="27" lengthAdjust="spacingAndGlyphs">.8 brn</text>
<text x="428.5" y="682.8" font-size="10.2" textLength="30" lengthAdjust="spacingAndGlyphs">RIGHT</text>
<line x1="428.5" y1="685.4" x2="458.5" y2="685.4" stroke="#3a3a3a" stroke-width="1.0" />
<text x="483" y="696" font-size="10.2" text-anchor="end" textLength="73" lengthAdjust="spacingAndGlyphs">FRONT MARKER</text>
<line x1="410" y1="698.6" x2="483" y2="698.6" stroke="#3a3a3a" stroke-width="1.0" />
<polyline points="482.4,581 482.4,626.4 515,626.4 515,676" fill="none" stroke="#a0ceeb" stroke-width="5.8" stroke-linejoin="miter" stroke-linecap="butt" />
<rect x="493.4" y="584.4" width="37" height="17.8" fill="none" stroke="#2a2d2b" stroke-width="1.5"/>
<text x="511.9" y="597.2" font-size="10.8" font-weight="bold" text-anchor="middle" fill="#333">15</text>
<text x="495" y="615.5" font-size="9.7" font-weight="bold" textLength="33.9" lengthAdjust="spacingAndGlyphs">.8 lt blu</text>
<path d="M507,682 Q515,672.6 523,682" fill="none" stroke="#2a2d2b" stroke-width="2.6" stroke-linecap="round"/>
<path d="M507,689.5 Q515,680.2 523,689.5" fill="none" stroke="#2a2d2b" stroke-width="2.6" stroke-linecap="round"/>
<text x="492.5" y="679" font-size="10.2" textLength="13.6" lengthAdjust="spacingAndGlyphs">Pin</text>
<text x="492.5" y="691.3" font-size="10.2" textLength="12.5" lengthAdjust="spacingAndGlyphs">8G</text>
<text x="527.7" y="684.7" font-size="10.2" textLength="22.7" lengthAdjust="spacingAndGlyphs">C115</text>
<line x1="527.7" y1="687.3" x2="550.4" y2="687.3" stroke="#3a3a3a" stroke-width="1.0" />
<polyline points="515,689 515,762 462,762 462,806" fill="none" stroke="#4d5c91" stroke-width="6" stroke-linejoin="miter" stroke-linecap="butt" />
<polyline points="477,728.4 515,728.4" fill="none" stroke="#4d5c91" stroke-width="5.5" stroke-linejoin="miter" stroke-linecap="butt" />
<polyline points="513.5,673.5 542.4,650.8 558,650.8 558,810" fill="none" stroke="#4d5c91" stroke-width="6" stroke-linejoin="miter" stroke-linecap="butt" />
<circle cx="515.6" cy="728.4" r="4.6" fill="#1f2a2a"/>
<text x="470.8" y="717.6" font-size="9.7" font-weight="bold" textLength="37" lengthAdjust="spacingAndGlyphs">.8 dk blu</text>
<text x="471" y="746" font-size="9.7" font-weight="bold" textLength="37" lengthAdjust="spacingAndGlyphs">.8 dk blu</text>
<text x="530" y="768.4" font-size="9.7" font-weight="bold" textLength="23" lengthAdjust="spacingAndGlyphs">.5 dk</text>
<text x="538.4" y="780.4" font-size="9.7" font-weight="bold" textLength="15" lengthAdjust="spacingAndGlyphs">blu</text>
<text x="523" y="730" font-size="10.2" textLength="21.5" lengthAdjust="spacingAndGlyphs">S115</text>
<line x1="523" y1="732.6" x2="544.5" y2="732.6" stroke="#3a3a3a" stroke-width="1.0" />
<rect x="209" y="797.3" width="76.6" height="50.5" rx="23" ry="25.2" fill="#b3d9ef" stroke="#1e2b2e" stroke-width="2.5"/>
<polyline points="226.5,805.8 232,800.3 237.5,805.8" fill="none" stroke="#1f3140" stroke-width="1.5" stroke-linejoin="round" />
<path d="M232,800.3 C233,805.3 240,807.3 239.5,814.8 C239,821.3 233,823.3 232,826.3 L232,831" fill="none" stroke="#1f3140" stroke-width="1.5" stroke-linejoin="round" />
<ellipse cx="233" cy="816.3" rx="4.8" ry="2.4" fill="none" stroke="#1f3140" stroke-width="1.5"/>
<polyline points="254.7,805.8 260.2,800.3 265.7,805.8" fill="none" stroke="#1f3140" stroke-width="1.5" stroke-linejoin="round" />
<path d="M260.2,800.3 C261.2,805.3 268.2,807.3 267.7,814.8 C267.2,821.3 261.2,823.3 260.2,826.3 L260.2,831" fill="none" stroke="#1f3140" stroke-width="1.5" stroke-linejoin="round" />
<ellipse cx="261.2" cy="816.3" rx="4.8" ry="2.4" fill="none" stroke="#1f3140" stroke-width="1.5"/>
<polyline points="232,831 260.2,831" fill="none" stroke="#1f3140" stroke-width="1.5" stroke-linejoin="round" />
<circle cx="247" cy="831" r="3.8" fill="#1f3140"/>
<line x1="247" y1="831" x2="247" y2="847.8" stroke="#1f3140" stroke-width="1.5" />
<path d="M224,794.2 Q232,784.9 240,794.2" fill="none" stroke="#2a2d2b" stroke-width="2.6" stroke-linecap="round"/>
<path d="M252.2,794.2 Q260.2,784.9 268.2,794.2" fill="none" stroke="#2a2d2b" stroke-width="2.6" stroke-linecap="round"/>
<text x="218.8" y="819.5" font-size="9.5" fill="#1f3140">T</text>
<text x="271.5" y="819.5" font-size="9.5" fill="#1f3140">P</text>
<text x="288.8" y="804.5" font-size="10.2" textLength="59" lengthAdjust="spacingAndGlyphs">LEFT FRONT</text>
<line x1="288.8" y1="807.1" x2="347.8" y2="807.1" stroke="#3a3a3a" stroke-width="1.0" />
<text x="288.8" y="816.1" font-size="10.2" textLength="54" lengthAdjust="spacingAndGlyphs">TURN/PARK</text>
<line x1="288.8" y1="818.7" x2="342.8" y2="818.7" stroke="#3a3a3a" stroke-width="1.0" />
<text x="288.8" y="828.6" font-size="10.2" textLength="26.5" lengthAdjust="spacingAndGlyphs">LAMP</text>
<line x1="288.8" y1="831.2" x2="315.3" y2="831.2" stroke="#3a3a3a" stroke-width="1.0" />
<rect x="255" y="853" width="37.6" height="18.3" fill="none" stroke="#2a2d2b" stroke-width="1.5"/>
<text x="273.8" y="866" font-size="10.8" font-weight="bold" text-anchor="middle" fill="#333">150</text>
<text x="216.6" y="873.7" font-size="9.7" font-weight="bold" textLength="24" lengthAdjust="spacingAndGlyphs">.8 blk</text>
<polyline points="247,848 247,901.4" fill="none" stroke="#2f302b" stroke-width="6" stroke-linejoin="miter" stroke-linecap="butt" />
<rect x="409.4" y="813.9" width="79.4" height="47.6" rx="23" ry="23.8" fill="#b3d9ef" stroke="#1e2b2e" stroke-width="2.5"/>
<polyline points="427.5,822.4 433,816.9 438.5,822.4" fill="none" stroke="#1f3140" stroke-width="1.5" stroke-linejoin="round" />
<path d="M433,816.9 C434,821.9 441,823.9 440.5,831.4 C440,837.9 434,839.9 433,842.9 L433,847.3" fill="none" stroke="#1f3140" stroke-width="1.5" stroke-linejoin="round" />
<ellipse cx="434" cy="832.9" rx="4.8" ry="2.4" fill="none" stroke="#1f3140" stroke-width="1.5"/>
<polyline points="456.5,822.4 462,816.9 467.5,822.4" fill="none" stroke="#1f3140" stroke-width="1.5" stroke-linejoin="round" />
<path d="M462,816.9 C463,821.9 470,823.9 469.5,831.4 C469,837.9 463,839.9 462,842.9 L462,847.3" fill="none" stroke="#1f3140" stroke-width="1.5" stroke-linejoin="round" />
<ellipse cx="463" cy="832.9" rx="4.8" ry="2.4" fill="none" stroke="#1f3140" stroke-width="1.5"/>
<polyline points="433,847.3 462,847.3" fill="none" stroke="#1f3140" stroke-width="1.5" stroke-linejoin="round" />
<circle cx="448.6" cy="847.3" r="3.8" fill="#1f3140"/>
<line x1="448.6" y1="847.3" x2="448.6" y2="861.5" stroke="#1f3140" stroke-width="1.5" />
<path d="M424.7,810.8 Q432.7,801.4 440.7,810.8" fill="none" stroke="#2a2d2b" stroke-width="2.6" stroke-linecap="round"/>
<path d="M453.7,810.8 Q461.7,801.4 469.7,810.8" fill="none" stroke="#2a2d2b" stroke-width="2.6" stroke-linecap="round"/>
<text x="421" y="834.6" font-size="9.5" fill="#1f3140">P</text>
<text x="474" y="837.6" font-size="9.5" fill="#1f3140">T</text>
<text x="403" y="795.9" font-size="9.7" font-weight="bold" textLength="27" lengthAdjust="spacingAndGlyphs">.8 brn</text>
<text x="465.5" y="795.9" font-size="9.7" font-weight="bold" textLength="37" lengthAdjust="spacingAndGlyphs">.8 dk blu</text>
<text x="405.2" y="843.1" font-size="10.2" text-anchor="end" textLength="63.5" lengthAdjust="spacingAndGlyphs">RIGHT FRONT</text>
<line x1="341.7" y1="845.7" x2="405.2" y2="845.7" stroke="#3a3a3a" stroke-width="1.0" />
<text x="405.2" y="855.2" font-size="10.2" text-anchor="end" textLength="54" lengthAdjust="spacingAndGlyphs">TURN/PARK</text>
<line x1="351.2" y1="857.8" x2="405.2" y2="857.8" stroke="#3a3a3a" stroke-width="1.0" />
<text x="405.2" y="867.3" font-size="10.2" text-anchor="end" textLength="26.5" lengthAdjust="spacingAndGlyphs">LAMP</text>
<line x1="378.7" y1="869.9" x2="405.2" y2="869.9" stroke="#3a3a3a" stroke-width="1.0" />
<text x="435.9" y="874.2" font-size="9.7" font-weight="bold">.8</text>
<text x="429.1" y="885.9" font-size="9.7" font-weight="bold" textLength="14" lengthAdjust="spacingAndGlyphs">blk</text>
<rect x="455.4" y="864.3" width="38.1" height="16.9" fill="none" stroke="#2a2d2b" stroke-width="1.5"/>
<text x="474.4" y="876.6" font-size="10.8" font-weight="bold" text-anchor="middle" fill="#333">150</text>
<polyline points="448.6,861 448,901.4" fill="none" stroke="#2f302b" stroke-width="6" stroke-linejoin="miter" stroke-linecap="butt" />
<line x1="252" y1="901.4" x2="446" y2="901.4" stroke="#2f302b" stroke-width="7.2" stroke-dasharray="10,7.4"/>
<circle cx="247" cy="901.4" r="4.8" fill="#2f302b"/>
<circle cx="448" cy="901.4" r="4.8" fill="#2f302b"/>
<text x="218.1" y="903" font-size="10.2" textLength="21.5" lengthAdjust="spacingAndGlyphs">S225</text>
<line x1="218.1" y1="905.6" x2="239.6" y2="905.6" stroke="#3a3a3a" stroke-width="1.0" />
<text x="328.6" y="913" font-size="9.7" font-weight="bold" textLength="30.6" lengthAdjust="spacingAndGlyphs">3.0 blk</text>
<line x1="247" y1="916.7" x2="247" y2="929" stroke="#2f302b" stroke-width="7.2" />
<line x1="247" y1="935" x2="247" y2="948.8" stroke="#2f302b" stroke-width="7.2" />
<path d="M243.5,952 L250.5,952 L252.5,959.5 A5.5,5.5 0 1 1 241.5,959.5 Z" fill="#2f302b"/>
<line x1="236" y1="966.8" x2="258" y2="966.8" stroke="#2a2d2b" stroke-width="1.6" />
<line x1="240" y1="971.3" x2="254" y2="971.3" stroke="#2a2d2b" stroke-width="1.6" />
<line x1="243.5" y1="975.8" x2="250.5" y2="975.8" stroke="#2a2d2b" stroke-width="1.6" />
<text x="253.6" y="942.7" font-size="9.7" font-weight="bold" textLength="30.6" lengthAdjust="spacingAndGlyphs">3.0 blk</text>
<text x="262.8" y="973.3" font-size="10.2" textLength="22.5" lengthAdjust="spacingAndGlyphs">G107</text>
<text x="457.5" y="903.5" font-size="10.2" textLength="21.5" lengthAdjust="spacingAndGlyphs">S230</text>
<line x1="457.5" y1="906.1" x2="479" y2="906.1" stroke="#3a3a3a" stroke-width="1.0" />
<line x1="448" y1="919.8" x2="448" y2="933.5" stroke="#2f302b" stroke-width="7.2" />
<path d="M444.5,938 L451.5,938 L453.5,951.5 A5.5,5.5 0 1 1 442.5,951.5 Z" fill="#2f302b"/>
<line x1="437" y1="958.2" x2="459" y2="958.2" stroke="#2a2d2b" stroke-width="1.6" />
<line x1="441" y1="962.7" x2="455" y2="962.7" stroke="#2a2d2b" stroke-width="1.6" />
<line x1="444.5" y1="967.2" x2="451.5" y2="967.2" stroke="#2a2d2b" stroke-width="1.6" />
<text x="455" y="926.5" font-size="9.7" font-weight="bold" textLength="30.6" lengthAdjust="spacingAndGlyphs">3.0 blk</text>
<text x="411.2" y="961" font-size="10.2" textLength="22.5" lengthAdjust="spacingAndGlyphs">G106</text>
<text x="401.5" y="980.6" font-size="10.2" textLength="91.2" lengthAdjust="spacingAndGlyphs">SEE FRONT LAMPS</text>
<text x="423.5" y="991.7" font-size="10.2" textLength="47.2" lengthAdjust="spacingAndGlyphs">GROUNDS</text>
<polyline points="155.2,797 155,869.8" fill="none" stroke="#2f302b" stroke-width="5.5" stroke-linejoin="miter" stroke-linecap="butt" />
<line x1="153" y1="805" x2="157.5" y2="802" stroke="#e9e9e0" stroke-width="1.1" />
<line x1="153" y1="812" x2="157.5" y2="809" stroke="#e9e9e0" stroke-width="1.1" />
<line x1="153" y1="819" x2="157.5" y2="816" stroke="#e9e9e0" stroke-width="1.1" />
<line x1="153" y1="826" x2="157.5" y2="823" stroke="#e9e9e0" stroke-width="1.1" />
<line x1="153" y1="833" x2="157.5" y2="830" stroke="#e9e9e0" stroke-width="1.1" />
<line x1="153" y1="840" x2="157.5" y2="837" stroke="#e9e9e0" stroke-width="1.1" />
<line x1="153" y1="847" x2="157.5" y2="844" stroke="#e9e9e0" stroke-width="1.1" />
<line x1="153" y1="854" x2="157.5" y2="851" stroke="#e9e9e0" stroke-width="1.1" />
<line x1="153" y1="861" x2="157.5" y2="858" stroke="#e9e9e0" stroke-width="1.1" />
<line x1="153" y1="868" x2="157.5" y2="865" stroke="#e9e9e0" stroke-width="1.1" />
<circle cx="156" cy="770.6" r="22.4" fill="#b3d9ef" stroke="#1e2b2e" stroke-width="2.5"/>
<polyline points="150,756 156,750 162,756" fill="none" stroke="#1f3140" stroke-width="1.5" stroke-linejoin="round" />
<polyline points="150,785.2 156,791.2 162,785.2" fill="none" stroke="#1f3140" stroke-width="1.5" stroke-linejoin="round" />
<path d="M156,750 L156,757.6 C157,761.6 164,762.1 163.5,769.6 C163,777.6 156,778.6 156,783.1 L156,791.2" fill="none" stroke="#1f3140" stroke-width="1.5" stroke-linejoin="round" />
<ellipse cx="156.8" cy="770.6" rx="5.3" ry="3.1" fill="none" stroke="#1f3140" stroke-width="1.5"/>
<path d="M148,747.4 Q156,738 164,747.4" fill="none" stroke="#2a2d2b" stroke-width="2.6" stroke-linecap="round"/>
<path d="M148,793.5 Q156,802.8 164,793.5" fill="none" stroke="#2a2d2b" stroke-width="2.6" stroke-linecap="round"/>
<text x="135.6" y="733.9" font-size="10.2" textLength="13.6" lengthAdjust="spacingAndGlyphs">Pin</text>
<text x="135.6" y="746.1" font-size="10.2" textLength="12" lengthAdjust="spacingAndGlyphs">C2</text>
<text x="177.6" y="755.5" font-size="10.2" textLength="22.5" lengthAdjust="spacingAndGlyphs">C601</text>
<line x1="177.6" y1="758.1" x2="200.1" y2="758.1" stroke="#3a3a3a" stroke-width="1.0" />
<text x="181.4" y="772.5" font-size="10.2" textLength="13.6" lengthAdjust="spacingAndGlyphs">Pin</text>
<text x="181.4" y="784.7" font-size="10.2" textLength="12" lengthAdjust="spacingAndGlyphs">D1</text>
<text x="164.4" y="799.8" font-size="10.2" textLength="22.5" lengthAdjust="spacingAndGlyphs">C601</text>
<line x1="164.4" y1="802.4" x2="186.9" y2="802.4" stroke="#3a3a3a" stroke-width="1.0" />
<text x="128.6" y="763" font-size="10.2" text-anchor="end" textLength="23" lengthAdjust="spacingAndGlyphs">LEFT</text>
<line x1="105.6" y1="765.6" x2="128.6" y2="765.6" stroke="#3a3a3a" stroke-width="1.0" />
<text x="128.6" y="774.4" font-size="10.2" text-anchor="end" textLength="25" lengthAdjust="spacingAndGlyphs">TURN</text>
<line x1="103.6" y1="777" x2="128.6" y2="777" stroke="#3a3a3a" stroke-width="1.0" />
<text x="128.6" y="787" font-size="10.2" text-anchor="end" textLength="49.5" lengthAdjust="spacingAndGlyphs">INDICATOR</text>
<line x1="79.1" y1="789.6" x2="128.6" y2="789.6" stroke="#3a3a3a" stroke-width="1.0" />
<text x="140.9" y="800.7" font-size="10.2" text-anchor="end" textLength="30.5" lengthAdjust="spacingAndGlyphs">(Part of</text>
<text x="147.5" y="812.9" font-size="10.2" text-anchor="end" textLength="68.4" lengthAdjust="spacingAndGlyphs">LCD  Instrument</text>
<text x="147.5" y="825.2" font-size="10.2" text-anchor="end" textLength="33.5" lengthAdjust="spacingAndGlyphs">Cluster)</text>
<rect x="167.2" y="808.8" width="37.3" height="18.3" fill="none" stroke="#2a2d2b" stroke-width="1.5"/>
<text x="185.8" y="821.8" font-size="10.8" font-weight="bold" text-anchor="middle" fill="#333">14</text>
<rect x="110.5" y="835.9" width="37.1" height="17.6" fill="none" stroke="#2a2d2b" stroke-width="1.5"/>
<text x="129.1" y="848.6" font-size="10.8" font-weight="bold" text-anchor="middle" fill="#333">150</text>
<text x="161" y="848" font-size="9.7" font-weight="bold" textLength="48.5" lengthAdjust="spacingAndGlyphs">.35 blk/wht</text>
<circle cx="154.8" cy="869.8" r="4.8" fill="#2f302b"/>
<text x="120.7" y="874" font-size="10.2" textLength="21.5" lengthAdjust="spacingAndGlyphs">S225</text>
<line x1="120.7" y1="876.6" x2="142.2" y2="876.6" stroke="#3a3a3a" stroke-width="1.0" />
<line x1="154.8" y1="872" x2="154.8" y2="883.5" stroke="#2f302b" stroke-width="7.2" />
<line x1="154.8" y1="890" x2="154.8" y2="901.5" stroke="#2f302b" stroke-width="7.2" />
<line x1="154.8" y1="909" x2="154.8" y2="919.5" stroke="#2f302b" stroke-width="7.2" />
<path d="M151.3,917 L158.3,917 L160.3,922.7 A5.5,5.5 0 1 1 149.3,922.7 Z" fill="#2f302b"/>
<line x1="143.8" y1="928.6" x2="165.8" y2="928.6" stroke="#2a2d2b" stroke-width="1.6" />
<line x1="147.8" y1="933.1" x2="161.8" y2="933.1" stroke="#2a2d2b" stroke-width="1.6" />
<line x1="151.3" y1="937.6" x2="158.3" y2="937.6" stroke="#2a2d2b" stroke-width="1.6" />
<text x="161.6" y="900" font-size="9.7" font-weight="bold" textLength="30.6" lengthAdjust="spacingAndGlyphs">3.0 blk</text>
<text x="166.7" y="937.5" font-size="10.2" textLength="22.5" lengthAdjust="spacingAndGlyphs">G101</text>
<text x="153.2" y="947.5" font-size="10.2" text-anchor="middle" textLength="18" lengthAdjust="spacingAndGlyphs">SEE</text>
<text x="152.5" y="959.8" font-size="10.2" text-anchor="middle" textLength="61.4" lengthAdjust="spacingAndGlyphs">INSTRUMENT</text>
<text x="153.2" y="971.4" font-size="10.2" text-anchor="middle" textLength="74.8" lengthAdjust="spacingAndGlyphs">PANEL GROUND</text>
<polyline points="558.6,866 558.7,928" fill="none" stroke="#2f302b" stroke-width="6" stroke-linejoin="miter" stroke-linecap="butt" />
<circle cx="559.4" cy="837.6" r="22" fill="#b3d9ef" stroke="#1e2b2e" stroke-width="2.5"/>
<polyline points="553.4,823.4 559.4,817.4 565.4,823.4" fill="none" stroke="#1f3140" stroke-width="1.5" stroke-linejoin="round" />
<polyline points="553.4,851.8 559.4,857.8 565.4,851.8" fill="none" stroke="#1f3140" stroke-width="1.5" stroke-linejoin="round" />
<path d="M559.4,817.4 L559.4,824.6 C560.4,828.6 567.4,829.1 566.9,836.6 C566.4,844.6 559.4,845.6 559.4,850.1 L559.4,857.8" fill="none" stroke="#1f3140" stroke-width="1.5" stroke-linejoin="round" />
<ellipse cx="560.2" cy="837.6" rx="5.3" ry="3.1" fill="none" stroke="#1f3140" stroke-width="1.5"/>
<path d="M549.8,815.1 Q557.8,805.8 565.8,815.1" fill="none" stroke="#2a2d2b" stroke-width="2.6" stroke-linecap="round"/>
<path d="M551,861.6 Q559,871 567,861.6" fill="none" stroke="#2a2d2b" stroke-width="2.6" stroke-linecap="round"/>
<text x="539.1" y="803.2" font-size="10.2" textLength="13.6" lengthAdjust="spacingAndGlyphs">Pin</text>
<text x="539.1" y="814.7" font-size="10.2" textLength="12" lengthAdjust="spacingAndGlyphs">C4</text>
<text x="570.9" y="811.2" font-size="10.2" textLength="22.5" lengthAdjust="spacingAndGlyphs">C601</text>
<line x1="570.9" y1="813.8" x2="593.4" y2="813.8" stroke="#3a3a3a" stroke-width="1.0" />
<text x="585.5" y="828" font-size="10.2" textLength="29.6" lengthAdjust="spacingAndGlyphs">RIGHT</text>
<line x1="585.5" y1="830.6" x2="615.1" y2="830.6" stroke="#3a3a3a" stroke-width="1.0" />
<text x="585.5" y="840.3" font-size="10.2" textLength="25" lengthAdjust="spacingAndGlyphs">TURN</text>
<line x1="585.5" y1="842.9" x2="610.5" y2="842.9" stroke="#3a3a3a" stroke-width="1.0" />
<text x="585.5" y="852.6" font-size="10.2" textLength="49.5" lengthAdjust="spacingAndGlyphs">INDICATOR</text>
<line x1="585.5" y1="855.2" x2="635" y2="855.2" stroke="#3a3a3a" stroke-width="1.0" />
<text x="585.5" y="865" font-size="10.2" textLength="30.5" lengthAdjust="spacingAndGlyphs">(Part of</text>
<text x="585.5" y="877.3" font-size="10.2" textLength="68.4" lengthAdjust="spacingAndGlyphs">LCD  Instrument</text>
<text x="585.5" y="888.8" font-size="10.2" textLength="33.5" lengthAdjust="spacingAndGlyphs">Cluster)</text>
<text x="526.8" y="866.8" font-size="10.2" textLength="22.5" lengthAdjust="spacingAndGlyphs">C601</text>
<line x1="526.8" y1="869.4" x2="549.3" y2="869.4" stroke="#3a3a3a" stroke-width="1.0" />
<text x="523.2" y="883.5" font-size="10.2" textLength="28.5" lengthAdjust="spacingAndGlyphs">Pin D1</text>
<text x="520.7" y="903" font-size="9.7" font-weight="bold" textLength="30" lengthAdjust="spacingAndGlyphs">.35 blk</text>
<circle cx="558.7" cy="914.3" r="4.8" fill="#2f302b"/>
<text x="567.4" y="916.7" font-size="10.2" textLength="21.5" lengthAdjust="spacingAndGlyphs">S225</text>
<line x1="567.4" y1="919.3" x2="588.9" y2="919.3" stroke="#3a3a3a" stroke-width="1.0" />
<line x1="558.7" y1="933.6" x2="558.7" y2="945.9" stroke="#2f302b" stroke-width="7.2" />
<line x1="558.7" y1="952.5" x2="558.7" y2="962.8" stroke="#2f302b" stroke-width="7.2" />
<path d="M555.2,959 L562.2,959 L564.2,965.6 A5.5,5.5 0 1 1 553.2,965.6 Z" fill="#2f302b"/>
<line x1="547.7" y1="971.9" x2="569.7" y2="971.9" stroke="#2a2d2b" stroke-width="1.6" />
<line x1="551.7" y1="976.4" x2="565.7" y2="976.4" stroke="#2a2d2b" stroke-width="1.6" />
<line x1="555.2" y1="980.9" x2="562.2" y2="980.9" stroke="#2a2d2b" stroke-width="1.6" />
<text x="521.6" y="945.9" font-size="9.7" font-weight="bold" textLength="30.6" lengthAdjust="spacingAndGlyphs">3.0 blk</text>
<text x="574.4" y="970" font-size="10.2" textLength="18.8" lengthAdjust="spacingAndGlyphs">SEE</text>
<text x="574.4" y="982" font-size="10.2" textLength="97.4" lengthAdjust="spacingAndGlyphs">INSTRUMENT  PANEL</text>
<text x="574.4" y="994.8" font-size="10.2" textLength="42" lengthAdjust="spacingAndGlyphs">GROUND</text>
<text x="529.2" y="987.3" font-size="10.2" textLength="22.5" lengthAdjust="spacingAndGlyphs">G101</text>
<polyline points="650.2,581 650.2,591.8 636.1,591.8 636.1,609" fill="none" stroke="#ebed3a" stroke-width="5.3" stroke-linejoin="miter" stroke-linecap="butt" />
<polyline points="636.1,621 636.1,668" fill="none" stroke="#ebed3a" stroke-width="5.3" stroke-linejoin="miter" stroke-linecap="butt" />
<polyline points="636.1,664 618.8,650.8 595.3,650.8 595.3,717" fill="none" stroke="#ebed3a" stroke-width="5.3" stroke-linejoin="miter" stroke-linecap="butt" />
<path d="M628.1,614.8 Q636.1,605.4 644.1,614.8" fill="none" stroke="#2a2d2b" stroke-width="2.6" stroke-linecap="round"/>
<path d="M628.1,622 Q636.1,612.6 644.1,622" fill="none" stroke="#2a2d2b" stroke-width="2.6" stroke-linecap="round"/>
<polyline points="727.2,580 727.2,594.4 713.9,594.4 713.9,610" fill="none" stroke="#509d39" stroke-width="5.5" stroke-linejoin="miter" stroke-linecap="butt" />
<polyline points="713.9,622 713.9,667" fill="none" stroke="#509d39" stroke-width="5.5" stroke-linejoin="miter" stroke-linecap="butt" />
<polyline points="713.9,661 724,650.7 748.6,650.7 748.6,717" fill="none" stroke="#509d39" stroke-width="5.5" stroke-linejoin="miter" stroke-linecap="butt" />
<path d="M705.9,615.5 Q713.9,606.2 721.9,615.5" fill="none" stroke="#2a2d2b" stroke-width="2.6" stroke-linecap="round"/>
<path d="M705.9,622.8 Q713.9,613.4 721.9,622.8" fill="none" stroke="#2a2d2b" stroke-width="2.6" stroke-linecap="round"/>
<line x1="646" y1="623" x2="707" y2="623" stroke="#2a2d2b" stroke-width="1.6" stroke-dasharray="7,5"/>
<text x="599" y="595.3" font-size="9.7" font-weight="bold" textLength="29.8" lengthAdjust="spacingAndGlyphs">1.0 yel</text>
<text x="603" y="618.2" font-size="10.2" textLength="22.5" lengthAdjust="spacingAndGlyphs">C124</text>
<line x1="603" y1="620.8" x2="625.5" y2="620.8" stroke="#3a3a3a" stroke-width="1.0" />
<text x="648.8" y="618.2" font-size="10.2" textLength="26" lengthAdjust="spacingAndGlyphs">Pin  K</text>
<text x="604.1" y="638.8" font-size="9.7" font-weight="bold" textLength="29.8" lengthAdjust="spacingAndGlyphs">1.0 yel</text>
<rect x="645.3" y="627.9" width="37.3" height="18" fill="none" stroke="#2a2d2b" stroke-width="1.5"/>
<text x="664" y="640.8" font-size="10.8" font-weight="bold" text-anchor="middle" fill="#333">18</text>
<text x="579.2" y="680.2" font-size="9.7" font-weight="bold">1.0</text>
<text x="579.2" y="695" font-size="9.7" font-weight="bold">yel</text>
<text x="605.9" y="673" font-size="10.2" textLength="22" lengthAdjust="spacingAndGlyphs">LEFT</text>
<text x="666" y="680.7" font-size="10.2" textLength="28" lengthAdjust="spacingAndGlyphs">RIGHT</text>
<text x="732.4" y="591.8" font-size="9.7" font-weight="bold" textLength="45.5" lengthAdjust="spacingAndGlyphs">1.0 dk grn</text>
<text x="689" y="606" font-size="10.2" textLength="13.6" lengthAdjust="spacingAndGlyphs">Pin</text>
<text x="689" y="617.7" font-size="10.2">G</text>
<rect x="728.9" y="604.5" width="38.1" height="17.1" fill="none" stroke="#2a2d2b" stroke-width="1.5"/>
<text x="748" y="616.9" font-size="10.8" font-weight="bold" text-anchor="middle" fill="#333">19</text>
<text x="718.8" y="633.2" font-size="9.7" font-weight="bold" textLength="27" lengthAdjust="spacingAndGlyphs">1.0 dk</text>
<text x="718.8" y="641.6" font-size="9.7" font-weight="bold">grn</text>
<text x="755" y="658.5" font-size="9.7" font-weight="bold">1.0</text>
<text x="755" y="668.2" font-size="9.7" font-weight="bold">dk</text>
<text x="755" y="679.2" font-size="9.7" font-weight="bold">grn</text>
<polyline points="638.8,716 638.8,755 678.9,788" fill="none" stroke="#2f302b" stroke-width="6.2" stroke-linejoin="miter" stroke-linecap="butt" />
<polyline points="712.5,716 712.5,755 678.9,788" fill="none" stroke="#2f302b" stroke-width="6.2" stroke-linejoin="miter" stroke-linecap="butt" />
<polyline points="596,764 596,789.8 752.7,789.8 752.7,764" fill="none" stroke="#2f302b" stroke-width="6.2" stroke-linejoin="miter" stroke-linecap="butt" />
<line x1="678.7" y1="788" x2="678.7" y2="798" stroke="#2f302b" stroke-width="7" />
<line x1="678.7" y1="805.4" x2="678.7" y2="817.6" stroke="#2f302b" stroke-width="7" />
<line x1="678.7" y1="823.3" x2="678.7" y2="834.6" stroke="#2f302b" stroke-width="7" />
<line x1="678.7" y1="842" x2="678.7" y2="859" stroke="#2f302b" stroke-width="7" />
<line x1="678.7" y1="866.6" x2="678.7" y2="878.8" stroke="#2f302b" stroke-width="7" />
<line x1="678.7" y1="885.4" x2="678.7" y2="894.8" stroke="#2f302b" stroke-width="7" />
<line x1="678.7" y1="902.4" x2="678.7" y2="914.6" stroke="#2f302b" stroke-width="7" />
<line x1="678.7" y1="921" x2="678.7" y2="928" stroke="#2f302b" stroke-width="7" />
<circle cx="678.7" cy="849.6" r="5.2" fill="#2f302b"/>
<circle cx="678.7" cy="932.5" r="5.6" fill="#2f302b"/>
<circle cx="638.3" cy="697.2" r="20.6" fill="#b3d9ef"/>
<circle cx="638.3" cy="697.2" r="20.6" fill="none" stroke="#1e2b2e" stroke-width="2.8" stroke-dasharray="13.7,4.8"/>
<polyline points="632.8,683.6 638.3,678.1 643.8,683.6" fill="none" stroke="#1f3140" stroke-width="1.5" stroke-linejoin="round" />
<polyline points="631.8,709.8 638.3,716.3 644.8,709.8" fill="none" stroke="#1f3140" stroke-width="1.5" stroke-linejoin="round" />
<path d="M638.3,678.1 L638.3,686.2 C639.3,689.2 645.8,690.2 645.7,697.2 C645.6,703.2 638.3,705.2 638.3,709.2 L638.3,716.3" fill="none" stroke="#1f3140" stroke-width="1.5" stroke-linejoin="round" />
<ellipse cx="639.4" cy="698.6" rx="5.6" ry="2.7" fill="none" stroke="#1f3140" stroke-width="1.5"/>
<text x="619" y="699.8" font-size="9.6" fill="#1f3140" stroke="#1f3140" stroke-width="0.3" textLength="14" lengthAdjust="spacingAndGlyphs">S/T</text>
<circle cx="638.3" cy="718.3" r="5" fill="#2f302b"/>
<circle cx="712.5" cy="697.2" r="20.6" fill="#b3d9ef"/>
<circle cx="712.5" cy="697.2" r="20.6" fill="none" stroke="#1e2b2e" stroke-width="2.8" stroke-dasharray="13.7,4.8"/>
<polyline points="707,683.6 712.5,678.1 718,683.6" fill="none" stroke="#1f3140" stroke-width="1.5" stroke-linejoin="round" />
<polyline points="706,709.8 712.5,716.3 719,709.8" fill="none" stroke="#1f3140" stroke-width="1.5" stroke-linejoin="round" />
<path d="M712.5,678.1 L712.5,686.2 C713.5,689.2 720,690.2 719.9,697.2 C719.8,703.2 712.5,705.2 712.5,709.2 L712.5,716.3" fill="none" stroke="#1f3140" stroke-width="1.5" stroke-linejoin="round" />
<ellipse cx="713.6" cy="698.6" rx="5.6" ry="2.7" fill="none" stroke="#1f3140" stroke-width="1.5"/>
<text x="693.2" y="699.8" font-size="9.6" fill="#1f3140" stroke="#1f3140" stroke-width="0.3" textLength="14" lengthAdjust="spacingAndGlyphs">S/T</text>
<circle cx="712.5" cy="718.3" r="5" fill="#2f302b"/>
<circle cx="596" cy="745" r="20.6" fill="#b3d9ef"/>
<circle cx="596" cy="745" r="20.6" fill="none" stroke="#1e2b2e" stroke-width="2.8" stroke-dasharray="13.7,4.8"/>
<polyline points="590.5,731.4 596,725.9 601.5,731.4" fill="none" stroke="#1f3140" stroke-width="1.5" stroke-linejoin="round" />
<polyline points="589.5,757.6 596,764.1 602.5,757.6" fill="none" stroke="#1f3140" stroke-width="1.5" stroke-linejoin="round" />
<path d="M596,725.9 L596,734 C597,737 603.5,738 603.4,745 C603.3,751 596,753 596,757 L596,764.1" fill="none" stroke="#1f3140" stroke-width="1.5" stroke-linejoin="round" />
<ellipse cx="597.1" cy="746.4" rx="5.6" ry="2.7" fill="none" stroke="#1f3140" stroke-width="1.5"/>
<text x="576.7" y="747.6" font-size="9.6" fill="#1f3140" stroke="#1f3140" stroke-width="0.3" textLength="14" lengthAdjust="spacingAndGlyphs">S/T</text>
<circle cx="596" cy="766.1" r="5" fill="#2f302b"/>
<circle cx="751.3" cy="745" r="20.6" fill="#b3d9ef"/>
<circle cx="751.3" cy="745" r="20.6" fill="none" stroke="#1e2b2e" stroke-width="2.8" stroke-dasharray="13.7,4.8"/>
<polyline points="745.8,731.4 751.3,725.9 756.8,731.4" fill="none" stroke="#1f3140" stroke-width="1.5" stroke-linejoin="round" />
<polyline points="744.8,757.6 751.3,764.1 757.8,757.6" fill="none" stroke="#1f3140" stroke-width="1.5" stroke-linejoin="round" />
<path d="M751.3,725.9 L751.3,734 C752.3,737 758.8,738 758.7,745 C758.6,751 751.3,753 751.3,757 L751.3,764.1" fill="none" stroke="#1f3140" stroke-width="1.5" stroke-linejoin="round" />
<ellipse cx="752.4" cy="746.4" rx="5.6" ry="2.7" fill="none" stroke="#1f3140" stroke-width="1.5"/>
<text x="732" y="747.6" font-size="9.6" fill="#1f3140" stroke="#1f3140" stroke-width="0.3" textLength="14" lengthAdjust="spacingAndGlyphs">S/T</text>
<circle cx="751.3" cy="766.1" r="5" fill="#2f302b"/>
<path d="M630,672.1 Q638,662.8 646,672.1" fill="none" stroke="#2a2d2b" stroke-width="2.6" stroke-linecap="round"/>
<path d="M704.5,671.4 Q712.5,662 720.5,671.4" fill="none" stroke="#2a2d2b" stroke-width="2.6" stroke-linecap="round"/>
<path d="M588,720.8 Q596,711.4 604,720.8" fill="none" stroke="#2a2d2b" stroke-width="2.6" stroke-linecap="round"/>
<path d="M743.3,720.8 Q751.3,711.4 759.3,720.8" fill="none" stroke="#2a2d2b" stroke-width="2.6" stroke-linecap="round"/>
<text x="662.8" y="713" font-size="10.2" textLength="24.5" lengthAdjust="spacingAndGlyphs">REAR</text>
<line x1="662.8" y1="715.6" x2="687.3" y2="715.6" stroke="#3a3a3a" stroke-width="1.0" />
<text x="662.8" y="726" font-size="10.2" textLength="26" lengthAdjust="spacingAndGlyphs">PARK/</text>
<line x1="662.8" y1="728.6" x2="688.8" y2="728.6" stroke="#3a3a3a" stroke-width="1.0" />
<text x="662.8" y="738.2" font-size="10.2" textLength="26" lengthAdjust="spacingAndGlyphs">STOP/</text>
<line x1="662.8" y1="740.8" x2="688.8" y2="740.8" stroke="#3a3a3a" stroke-width="1.0" />
<text x="662.8" y="750.6" font-size="10.2" textLength="25" lengthAdjust="spacingAndGlyphs">TURN</text>
<line x1="662.8" y1="753.2" x2="687.8" y2="753.2" stroke="#3a3a3a" stroke-width="1.0" />
<text x="662.8" y="763" font-size="10.2" textLength="31" lengthAdjust="spacingAndGlyphs">LAMPS</text>
<line x1="662.8" y1="765.6" x2="693.8" y2="765.6" stroke="#3a3a3a" stroke-width="1.0" />
<text x="647.3" y="739" font-size="9.7" font-weight="bold">.8</text>
<text x="644.7" y="751.9" font-size="9.7" font-weight="bold" textLength="14" lengthAdjust="spacingAndGlyphs">blk</text>
<text x="698.3" y="781.6" font-size="9.7" font-weight="bold" textLength="24" lengthAdjust="spacingAndGlyphs">.8 blk</text>
<text x="618" y="801.8" font-size="9.7" font-weight="bold" textLength="24" lengthAdjust="spacingAndGlyphs">.8 blk</text>
<text x="685.3" y="801" font-size="10.2" textLength="22" lengthAdjust="spacingAndGlyphs">S205</text>
<line x1="685.3" y1="803.6" x2="707.3" y2="803.6" stroke="#3a3a3a" stroke-width="1.0" />
<text x="715.6" y="801.8" font-size="9.7" font-weight="bold" textLength="24" lengthAdjust="spacingAndGlyphs">.8 blk</text>
<text x="685" y="824.2" font-size="9.7" font-weight="bold" textLength="30.6" lengthAdjust="spacingAndGlyphs">3.0 blk</text>
<text x="685.9" y="852.5" font-size="10.2" textLength="22" lengthAdjust="spacingAndGlyphs">S360</text>
<line x1="685.9" y1="855.1" x2="707.9" y2="855.1" stroke="#3a3a3a" stroke-width="1.0" />
<text x="684" y="890.7" font-size="9.7" font-weight="bold" textLength="30.6" lengthAdjust="spacingAndGlyphs">3.0 blk</text>
<text x="644.1" y="940" font-size="10.2" textLength="22.5" lengthAdjust="spacingAndGlyphs">G109</text>
<text x="695.7" y="931.5" font-size="10.2" textLength="18.8" lengthAdjust="spacingAndGlyphs">SEE</text>
<text x="695.7" y="943.4" font-size="10.2" textLength="25.9" lengthAdjust="spacingAndGlyphs">REAR</text>
<text x="695.7" y="955.4" font-size="10.2" textLength="25.9" lengthAdjust="spacingAndGlyphs">BODY</text>
<text x="695.7" y="967.3" font-size="10.2" textLength="40.7" lengthAdjust="spacingAndGlyphs">GROUND</text>
</svg></body></html>
